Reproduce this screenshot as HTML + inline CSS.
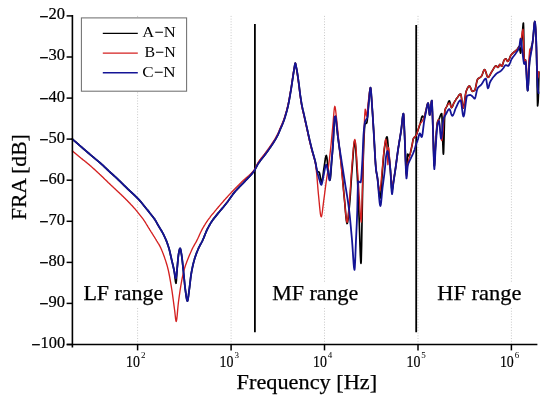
<!DOCTYPE html>
<html><head><meta charset="utf-8"><style>
html,body{margin:0;padding:0;background:#fff;}
svg{display:block;}
text{font-family:"Liberation Serif","DejaVu Serif",serif;fill:#000;}
.tk{font-size:16px;stroke:#000;stroke-width:0.2px;}
.sup{font-size:9px;}
.lab{font-size:21px;stroke:#000;stroke-width:0.25px;}
.lab2{font-size:21.5px;stroke:#000;stroke-width:0.25px;}
.leg{font-size:15px;}
</style></head><body>
<svg width="550" height="403" viewBox="0 0 550 403">
<line x1="137.6" y1="15.9" x2="137.6" y2="344.5" stroke="#c8c8c8" stroke-width="1" stroke-dasharray="1,1.73"/>
<line x1="231.1" y1="15.9" x2="231.1" y2="344.5" stroke="#c8c8c8" stroke-width="1" stroke-dasharray="1,1.73"/>
<line x1="324.5" y1="15.9" x2="324.5" y2="344.5" stroke="#c8c8c8" stroke-width="1" stroke-dasharray="1,1.73"/>
<line x1="418.0" y1="15.9" x2="418.0" y2="344.5" stroke="#c8c8c8" stroke-width="1" stroke-dasharray="1,1.73"/>
<line x1="511.4" y1="15.9" x2="511.4" y2="344.5" stroke="#c8c8c8" stroke-width="1" stroke-dasharray="1,1.73"/>
<line x1="254.9" y1="24.1" x2="254.9" y2="332.3" stroke="#000" stroke-width="1.8"/>
<line x1="416.2" y1="24.9" x2="416.2" y2="332.3" stroke="#000" stroke-width="1.8"/>
<rect x="80.5" y="282" width="86.0" height="25" fill="#fff"/>
<rect x="269.5" y="282" width="92.0" height="25" fill="#fff"/>
<rect x="434.5" y="282" width="90.0" height="25" fill="#fff"/>
<path d="M72.4,139.1 72.8,139.5 73.2,139.8 73.6,140.2 74,140.5 74.4,140.9 74.8,141.2 75.2,141.6 75.6,141.9 76,142.2 76.4,142.6 76.8,142.9 77.2,143.3 77.6,143.6 78,144.0 78.4,144.3 78.8,144.7 79.2,145.0 79.6,145.4 80,145.7 80.4,146.1 80.8,146.4 81,146.6 81.2,146.8 81.6,147.1 82,147.5 82.4,147.8 82.8,148.2 83.2,148.5 83.6,148.9 84,149.2 84.4,149.5 84.8,149.9 85.2,150.2 85.6,150.6 86,150.9 86.4,151.3 86.8,151.6 87.2,152.0 87.6,152.3 88,152.7 88.4,153.0 88.8,153.3 89.2,153.7 89.6,154.0 90,154.4 90.4,154.7 90.8,155.1 91.2,155.4 91.2,155.4 91.6,155.7 92,156.1 92.4,156.4 92.8,156.7 93.2,157.1 93.6,157.4 94,157.7 94.4,158.1 94.8,158.4 95.2,158.7 95.6,159.1 96,159.4 96.4,159.7 96.8,160.1 97.2,160.4 97.6,160.7 98,161.1 98.4,161.4 98.8,161.7 99.2,162.1 99.6,162.4 100,162.8 100.4,163.1 100.8,163.5 101.2,163.8 101.4,164.0 101.6,164.2 102,164.5 102.4,164.9 102.8,165.3 103.2,165.6 103.6,166.0 104,166.4 104.4,166.8 104.8,167.2 105.2,167.5 105.6,167.9 106,168.3 106.4,168.7 106.8,169.1 107.2,169.5 107.6,169.8 108,170.2 108.4,170.6 108.8,171.0 109.2,171.4 109.6,171.7 110,172.1 110,172.1 110.4,172.5 110.8,172.8 111.2,173.2 111.6,173.5 112,173.9 112.4,174.2 112.8,174.6 113.2,175.0 113.6,175.3 114,175.7 114.4,176.0 114.8,176.4 115.2,176.7 115.6,177.1 115.8,177.3 116,177.5 116.4,177.9 116.8,178.2 117.2,178.6 117.6,179.0 118,179.4 118.4,179.8 118.8,180.2 119.2,180.5 119.6,180.9 120,181.3 120.4,181.7 120.8,182.1 121.2,182.5 121.6,182.9 122,183.3 122.4,183.7 122.8,184.1 123.2,184.5 123.6,184.9 124,185.3 124.4,185.7 124.8,186.0 125.2,186.4 125.6,186.8 126,187.2 126.4,187.6 126.8,188.0 127,188.2 127.2,188.4 127.6,188.8 128,189.2 128.4,189.5 128.8,189.9 129.2,190.3 129.6,190.7 130,191.0 130.4,191.4 130.8,191.8 131.2,192.1 131.6,192.5 132,192.9 132.4,193.3 132.8,193.6 133.2,194.0 133.6,194.4 134,194.8 134.4,195.1 134.8,195.5 135.2,195.9 135.6,196.3 136,196.7 136.4,197.1 136.8,197.5 137.2,197.9 137.6,198.3 138,198.7 138.4,199.1 138.8,199.5 139.2,200.0 139.5,200.3 139.6,200.4 140,200.9 140.4,201.3 140.8,201.8 141.2,202.3 141.6,202.8 142,203.3 142.4,203.8 142.8,204.3 143.2,204.8 143.6,205.3 143.7,205.4 144,205.8 144.4,206.2 144.8,206.7 145.2,207.2 145.6,207.7 146,208.2 146.4,208.7 146.8,209.2 147.2,209.7 147.4,209.9 147.6,210.1 148,210.6 148.4,211.1 148.8,211.6 149.2,212.1 149.6,212.7 150,213.2 150.4,213.7 150.8,214.2 151.2,214.7 151.2,214.7 151.6,215.2 152,215.7 152.4,216.2 152.8,216.7 153.2,217.2 153.6,217.8 154,218.3 154.4,218.9 154.8,219.4 154.9,219.6 155.2,220.1 155.6,220.7 156,221.4 156.4,222.1 156.8,222.8 157.2,223.6 157.6,224.3 158,225.0 158,225.0 158.4,225.7 158.8,226.4 159.2,227.0 159.6,227.7 160,228.3 160.4,229.0 160.8,229.6 161.2,230.3 161.6,231.0 162,231.7 162.4,232.4 162.8,233.1 163.2,233.9 163.6,234.7 163.8,235.1 164,235.5 164.4,236.4 164.8,237.2 165.2,238.1 165.6,239.0 166,239.9 166.4,240.9 166.8,241.9 167.2,243.0 167.6,244.1 168,245.2 168.4,246.5 168.7,247.4 168.8,247.7 169.2,249.1 169.6,250.7 170,252.4 170.4,254.2 170.8,256.0 171.2,257.8 171.6,259.6 171.7,260.0 172,261.3 172.4,262.9 172.8,264.5 173.2,266.2 173.6,268.0 174,269.9 174.2,271.0 174.4,272.3 174.8,275.6 175.2,279.2 175.6,282.1 176,283.3 176,283.3 176.4,280.3 176.8,274.0 177.2,268.0 177.2,268.0 177.6,263.4 178,258.9 178.4,255.3 178.6,254.0 178.8,252.9 179.2,250.8 179.6,249.2 180,248.3 180.1,248.3 180.4,248.7 180.8,250.3 181.2,252.6 181.6,255.0 181.6,255.0 182,257.8 182.4,261.3 182.8,265.1 183.2,269.1 183.6,273.0 183.6,273.0 184,276.9 184.4,281.0 184.8,285.1 185.2,288.7 185.5,291.0 185.6,291.7 186,294.6 186.4,297.3 186.8,299.5 187.2,300.8 187.4,301.0 187.6,300.8 188,299.1 188.4,296.3 188.8,293.1 189.2,290.0 189.2,290.0 189.6,286.9 190,283.5 190.4,280.0 190.8,276.7 191.2,274.0 191.2,274.0 191.6,271.7 192,269.6 192.4,267.6 192.8,265.7 193.2,264.0 193.6,262.4 194,260.9 194.3,259.8 194.4,259.5 194.8,258.1 195.2,256.9 195.6,255.7 196,254.6 196.4,253.5 196.8,252.4 197.2,251.4 197.6,250.5 198,249.5 198.4,248.6 198.4,248.6 198.8,247.7 199.2,246.9 199.6,246.1 200,245.3 200.4,244.5 200.8,243.8 201.2,243.1 201.6,242.3 202,241.6 202.4,240.8 202.8,239.9 202.9,239.7 203.2,239.0 203.6,238.1 204,237.1 204.4,236.1 204.8,235.1 205.2,234.0 205.6,233.1 206,232.1 206.4,231.2 206.5,231.0 206.8,230.4 207.2,229.5 207.6,228.7 208,227.9 208.4,227.2 208.8,226.4 209.2,225.7 209.6,225.0 210,224.3 210.4,223.6 210.8,222.9 211.2,222.3 211.2,222.3 211.6,221.7 212,221.1 212.4,220.5 212.8,220.0 213.2,219.4 213.6,218.9 214,218.4 214.4,217.9 214.8,217.3 215.2,216.9 215.6,216.4 216,215.9 216.4,215.4 216.8,214.9 217.2,214.4 217.6,213.9 218,213.4 218.4,212.9 218.6,212.7 218.8,212.5 219.2,212.0 219.6,211.5 220,211.0 220.4,210.5 220.8,210.0 221.2,209.6 221.6,209.1 222,208.6 222.4,208.2 222.8,207.7 223.2,207.2 223.6,206.8 224,206.3 224.4,205.8 224.8,205.3 225.2,204.8 225.6,204.3 226,203.8 226.1,203.7 226.4,203.3 226.8,202.8 227.2,202.3 227.6,201.7 228,201.2 228.4,200.6 228.8,200.0 229.2,199.5 229.6,198.9 230,198.3 230.4,197.8 230.8,197.2 231.2,196.6 231.6,196.1 232,195.5 232.4,195.0 232.8,194.4 233.2,193.9 233.6,193.4 234,192.9 234.4,192.4 234.8,191.9 234.8,191.9 235.2,191.4 235.6,191.0 236,190.5 236.4,190.1 236.8,189.6 237.2,189.2 237.6,188.8 238,188.4 238.4,188.0 238.8,187.6 239.2,187.1 239.6,186.7 240,186.3 240.4,185.9 240.8,185.5 241.2,185.1 241.6,184.7 242,184.3 242.4,183.9 242.8,183.5 243.2,183.1 243.6,182.6 244,182.2 244.2,182.0 244.4,181.8 244.8,181.4 245.2,180.9 245.6,180.5 246,180.1 246.4,179.7 246.8,179.3 247.2,178.9 247.6,178.4 248,178.0 248.4,177.6 248.8,177.2 249.2,176.8 249.6,176.3 250,175.9 250.4,175.5 250.8,175.0 251.2,174.6 251.6,174.1 252,173.6 252.4,173.1 252.8,172.6 253.2,172.1 253.6,171.6 254,171.0 254.4,170.4 254.7,170.0 254.8,169.8 255.2,169.2 255.6,168.4 256,167.6 256.4,166.8 256.8,166.0 257.2,165.3 257.6,164.6 257.7,164.4 258,163.9 258.4,163.3 258.8,162.7 259.2,162.2 259.6,161.6 260,161.1 260.4,160.5 260.8,160.0 261.2,159.5 261.6,159.0 262,158.5 262.4,158.0 262.8,157.5 263.2,157.0 263.6,156.5 264,156.0 264.4,155.5 264.8,154.9 265.2,154.4 265.2,154.4 265.6,153.9 266,153.3 266.4,152.8 266.8,152.2 267.2,151.7 267.6,151.1 268,150.6 268.4,150.0 268.8,149.5 269.2,148.9 269.6,148.3 270,147.8 270.4,147.2 270.8,146.6 271.2,146.0 271.6,145.4 272,144.8 272.4,144.2 272.6,143.9 272.8,143.6 273.2,143.0 273.6,142.3 274,141.7 274.4,141.1 274.8,140.4 275.2,139.8 275.6,139.1 276,138.4 276.4,137.7 276.8,136.9 277.2,136.2 277.6,135.4 277.8,135.0 278,134.6 278.4,133.7 278.8,132.7 279.2,131.8 279.6,130.8 279.8,130.3 280,129.8 280.4,128.9 280.8,128.0 281.2,127.1 281.6,126.2 282,125.3 282.4,124.3 282.8,123.3 283.2,122.3 283.2,122.3 283.6,121.2 284,120.1 284.4,118.9 284.8,117.7 285.2,116.4 285.6,115.1 286,113.7 286.1,113.4 286.4,112.3 286.8,110.9 287.2,109.3 287.6,107.7 288,106.0 288,106.0 288.4,104.1 288.8,102.1 289.1,100.5 289.2,100.0 289.6,97.8 290,95.5 290.4,93.2 290.8,90.9 291.2,88.4 291.3,87.8 291.6,85.9 292,83.2 292.4,80.5 292.8,77.8 293.2,75.1 293.2,75.1 293.6,72.5 294,69.9 294.4,67.5 294.4,67.5 294.8,65.0 295.2,63.3 295.3,63.2 295.6,63.8 296,65.9 296.3,67.5 296.4,68.0 296.8,70.0 297.2,72.3 297.3,72.9 297.6,74.8 298,77.6 298.4,80.5 298.8,83.5 298.8,83.5 299.2,86.7 299.6,90.0 300,93.3 300.3,95.5 300.4,96.2 300.8,98.9 301.2,101.5 301.6,103.9 301.8,105.0 302,106.0 302.4,107.9 302.8,109.7 303.2,111.3 303.6,113.1 303.7,113.5 304,114.8 304.4,116.6 304.8,118.4 305.2,120.2 305.6,122.0 306,123.8 306.4,125.6 306.7,126.9 306.8,127.4 307.2,129.2 307.6,131.0 308,132.9 308.4,134.7 308.8,136.5 309.2,138.3 309.6,140.1 310,141.8 310,141.8 310.4,143.4 310.8,145.0 311.2,146.6 311.6,148.2 312,149.7 312.4,151.2 312.4,151.2 312.8,152.7 313.2,154.1 313.6,155.5 314,157.0 314.4,158.4 314.8,159.9 315.2,161.5 315.4,162.3 315.6,163.2 316,165.5 316.4,168.0 316.8,170.0 317.2,171.3 317.3,171.4 317.6,171.6 318,171.8 318.4,171.9 318.8,172.0 319.1,172.2 319.2,172.3 319.6,173.4 320,175.3 320.4,177.5 320.8,179.7 321.2,181.5 321.6,182.4 321.7,182.4 322,181.9 322.4,180.1 322.8,177.3 323.2,174.0 323.6,170.7 324,168.0 324,168.0 324.4,165.4 324.8,162.5 325.2,159.7 325.6,157.4 326,155.9 326.3,155.5 326.4,155.6 326.8,157.2 327.2,160.2 327.6,164.0 328,167.7 328.3,170.0 328.4,170.7 328.8,173.7 329.2,176.7 329.6,179.1 330,180.0 330,180.0 330.4,178.3 330.8,174.0 331.2,168.4 331.6,162.6 331.8,160.0 332,157.6 332.4,152.6 332.8,147.4 333,144.6 333.2,141.4 333.6,133.3 334,125.1 334.4,118.9 334.7,117.0 334.8,116.9 335.2,116.5 335.5,116.4 335.6,116.5 336,119.2 336.4,123.1 336.5,124.0 336.8,126.7 337.2,130.5 337.6,134.2 337.6,134.2 338,137.6 338.4,140.8 338.8,143.9 339.2,147.0 339.6,150.0 340,153.1 340.4,156.3 340.8,159.6 341.2,163.1 341.4,165.0 341.6,167.0 342,171.2 342.4,175.7 342.8,180.5 343.2,185.3 343.6,190.1 344,194.7 344.4,199.0 344.5,200.0 344.8,203.2 345.2,207.9 345.6,212.7 346,217.1 346.4,220.7 346.8,222.9 347.1,223.5 347.2,223.4 347.6,222.2 348,219.7 348.4,216.3 348.8,212.3 349.2,208.1 349.5,205.0 349.6,204.0 350,199.1 350.4,193.5 350.8,187.4 351.2,181.1 351.6,175.2 352,170.0 352,170.0 352.4,164.9 352.8,159.4 353.2,153.9 353.6,148.9 354,144.8 354.4,142.0 354.8,141.0 354.8,141.0 355.2,142.5 355.6,146.6 356,152.5 356.4,159.4 356.8,166.6 357,170.0 357.2,173.5 357.6,181.7 358,190.8 358.4,200.5 358.8,210.3 359,215.0 359.2,220.1 359.6,232.3 360,245.0 360.4,255.8 360.8,262.4 361,263.3 361.2,260.9 361.6,245.0 362,221.8 362.4,200.0 362.4,200.0 362.8,180.0 363.2,160.5 363.5,150.0 363.6,147.4 364,137.7 364.4,129.7 364.8,124.9 365,124.0 365.2,123.8 365.6,123.5 366,123.4 366.4,123.2 366.8,122.8 366.8,122.8 367.2,120.7 367.6,116.3 368,110.9 368.4,106.0 368.5,105.0 368.8,101.9 369.2,97.3 369.6,92.9 370,89.5 370.4,87.8 370.5,87.7 370.8,88.9 371.2,93.2 371.6,99.1 372,105.0 372,105.0 372.4,110.7 372.8,117.0 373.2,123.5 373.6,130.0 373.6,130.0 374,136.8 374.4,144.1 374.8,151.5 375.2,158.5 375.6,164.5 376,169.1 376.1,170.0 376.4,172.1 376.8,174.3 377.2,176.4 377.3,177.0 377.6,179.2 378,182.6 378.4,186.5 378.8,190.3 379.2,193.7 379.6,196.3 380,197.8 380.2,198.0 380.4,197.6 380.8,194.6 381.2,189.6 381.6,183.4 382,176.9 382.4,171.2 382.5,170.0 382.8,166.4 383.2,161.4 383.6,156.5 384,152.2 384.4,148.7 384.5,148.0 384.8,146.1 385.2,143.5 385.6,141.2 386,139.2 386.4,137.7 386.8,136.9 387,136.8 387.2,137.2 387.6,140.1 388,144.5 388.4,149.0 388.5,150.0 388.8,152.9 389.2,156.9 389.6,161.1 390,165.5 390.4,170.0 390.4,170.0 390.8,175.7 391.2,182.3 391.6,187.7 392,190.0 392,190.0 392.4,189.1 392.8,186.8 393.2,184.0 393.5,182.0 393.6,181.4 394,178.9 394.4,176.2 394.8,173.5 395.2,170.7 395.3,170.0 395.6,167.9 396,164.9 396.4,161.8 396.8,158.8 397.2,155.8 397.6,152.8 398,150.0 398,150.0 398.4,147.4 398.8,144.8 399.2,142.4 399.6,140.0 400,137.6 400.4,135.2 400.8,132.7 401.2,130.0 401.2,130.0 401.6,126.7 402,122.9 402.4,119.0 402.8,115.8 403.2,113.9 403.4,113.6 403.6,114.6 404,121.1 404.4,130.7 404.8,140.0 404.8,140.0 405.2,149.8 405.6,161.0 406,170.2 406.4,174.0 406.4,174.0 406.8,169.5 407.2,160.6 407.6,154.3 407.7,154.0 408,154.3 408.4,155.1 408.8,155.9 409,156.0 409.2,155.9 409.6,155.1 410,154.0 410,154.0 410.4,152.7 410.8,151.1 411.2,149.3 411.6,147.4 412,145.5 412.1,145.0 412.4,143.4 412.8,141.1 413.2,139.2 413.4,138.6 413.6,138.2 414,137.7 414.4,137.2 414.8,136.9 415.2,136.6 415.6,136.2 416,135.6 416,135.6 416.4,134.8 416.8,133.7 417.2,132.5 417.6,131.3 417.9,130.4 418,130.1 418.4,128.9 418.8,127.7 419.2,126.5 419.6,125.3 420,124.0 420.1,123.7 420.4,122.6 420.8,120.9 421.2,119.2 421.6,117.6 422,116.5 422.4,116.1 422.4,116.1 422.8,116.3 423.2,116.9 423.6,117.5 424,117.9 424.2,118.0 424.4,117.8 424.8,116.4 425.2,114.3 425.6,111.9 426,110.0 426,110.0 426.4,108.4 426.8,106.6 427.2,105.0 427.6,103.7 428,103.1 428.1,103.1 428.4,104.2 428.8,107.9 429.2,112.2 429.6,114.8 429.7,114.9 430,114.1 430.4,111.2 430.8,107.2 431.2,103.4 431.6,101.0 431.8,100.6 432,102.1 432.4,111.4 432.8,124.2 433,130.0 433.2,136.0 433.6,150.4 434,162.5 434.3,166.0 434.4,165.7 434.8,159.8 435.2,150.7 435.5,145.0 435.6,143.6 436,137.7 436.4,132.1 436.8,127.2 437.2,123.6 437.5,122.0 437.6,121.7 438,120.7 438.4,120.0 438.8,119.4 439,119.0 439.2,118.6 439.6,117.6 440,116.5 440.4,115.5 440.8,114.6 441.2,113.9 441.6,113.6 441.7,113.6 442,116.9 442.4,128.6 442.8,142.6 443.2,152.6 443.4,154.2 443.6,152.2 444,139.5 444.4,122.9 444.8,111.5 444.9,110.6 445.2,109.5 445.6,108.4 446,107.7 446.4,107.1 446.8,106.4 447,106.0 447.2,105.5 447.6,104.4 448,103.2 448.4,102.2 448.8,101.3 449.2,100.9 449.3,100.9 449.6,101.2 450,102.4 450.4,104.0 450.8,105.7 451.2,107.1 451.6,107.6 451.6,107.6 452,107.3 452.4,106.6 452.8,105.6 453.2,104.6 453.6,103.6 453.8,103.2 454,102.8 454.4,102.1 454.8,101.4 455.2,100.7 455.6,100.1 456,99.4 456.4,98.8 456.8,98.3 457,98.0 457.2,97.7 457.6,97.2 458,96.6 458.4,96.0 458.8,95.4 459.2,94.9 459.6,94.5 460,94.2 460.4,94.0 460.6,94.0 460.8,94.2 461.2,95.9 461.6,98.6 462,101.8 462.4,104.8 462.8,107.1 463.2,108.0 463.2,108.0 463.6,107.3 464,105.4 464.4,102.8 464.8,99.8 465.2,96.7 465.6,93.9 466,91.9 466.2,91.2 466.4,90.7 466.8,89.7 467.2,88.8 467.6,88.0 468,87.2 468.4,86.7 468.8,86.2 469.2,86.0 469.4,86.0 469.6,86.1 470,86.6 470.4,87.4 470.8,88.4 471.2,89.4 471.6,90.4 472,91.0 472.4,91.3 472.4,91.3 472.8,91.3 473.2,91.2 473.6,91.0 474,90.8 474.4,90.6 474.6,90.5 474.8,90.3 475.2,89.2 475.6,87.6 476,85.7 476.4,83.6 476.8,81.7 477.2,80.2 477.6,79.3 477.6,79.3 478,78.8 478.4,78.5 478.8,78.2 479.2,77.9 479.6,77.7 480,77.5 480.4,77.2 480.8,76.9 481.2,76.5 481.3,76.4 481.6,76.0 482,75.1 482.4,74.1 482.8,73.0 483.2,71.8 483.6,70.9 484,70.1 484.4,69.7 484.6,69.6 484.8,69.7 485.2,70.2 485.6,71.2 486,72.5 486.4,73.8 486.8,75.2 487.2,76.3 487.6,77.1 488,77.4 488,77.4 488.4,77.3 488.8,76.9 489.2,76.4 489.6,75.7 490,75.0 490.4,74.2 490.8,73.4 491.2,72.6 491.6,71.9 491.7,71.8 492,71.4 492.4,70.7 492.8,70.0 493.2,69.3 493.6,68.6 494,67.9 494.4,67.3 494.8,66.8 495.2,66.3 495.6,66.0 496,65.9 496.1,65.9 496.4,66.0 496.8,66.4 497.2,66.8 497.6,67.2 498,67.4 498,67.4 498.4,67.1 498.8,66.3 499.2,65.3 499.6,64.6 499.9,64.4 500,64.4 500.4,64.7 500.8,65.3 501.2,65.9 501.6,66.2 501.7,66.2 502,66.0 502.4,65.2 502.8,64.1 503.2,62.7 503.6,61.4 504,60.4 504.3,59.9 504.4,59.8 504.8,59.4 505.2,59.0 505.6,58.8 505.8,58.8 506,58.9 506.4,59.4 506.8,60.2 507.2,61.0 507.6,61.4 507.7,61.4 508,61.3 508.4,60.8 508.8,60.1 509.2,59.2 509.6,58.2 510,57.1 510.4,56.2 510.8,55.4 511,55.1 511.2,54.8 511.6,54.4 512,53.9 512.4,53.5 512.8,53.1 513.2,52.8 513.6,52.4 514,52.1 514.4,51.8 514.8,51.4 515.2,51.1 515.6,50.8 516,50.4 516.4,50.1 516.8,49.7 517.2,49.3 517.6,48.8 517.7,48.7 518,48.2 518.4,47.5 518.8,46.8 519.2,46.5 519.2,46.5 519.6,47.8 520,50.4 520.4,52.6 520.6,53.0 520.8,52.5 521.2,49.3 521.6,44.2 522,38.7 522.3,35.0 522.4,33.8 522.8,28.2 523.2,23.7 523.4,23.0 523.6,27.9 524,51.9 524.3,62.0 524.4,62.0 524.8,61.2 525.2,60.3 525.5,60.0 525.6,60.2 526,64.0 526.4,71.1 526.8,79.4 527.2,86.5 527.6,90.3 527.7,90.5 528,88.9 528.4,82.9 528.8,74.7 529.2,66.6 529.5,62.0 529.6,60.8 530,56.4 530.4,52.7 530.5,52.0 530.8,50.1 531.2,48.0 531.6,46.3 532,44.7 532.4,42.9 532.8,40.6 532.9,40.0 533.2,37.3 533.6,32.4 534,27.3 534.4,23.2 534.8,21.5 534.8,21.5 535.2,23.5 535.6,28.8 536,36.0 536.1,38.0 536.4,47.2 536.8,65.4 537,75.0 537.2,87.1 537.6,106.0 537.6,106.0 538,103.0 538.2,100.0 538.4,95.1 538.8,77.5 538.9,72.0" fill="none" stroke="#000" stroke-width="1.7" stroke-linejoin="round" stroke-linecap="round"/>
<path d="M72.4,150.9 72.8,151.2 73.2,151.6 73.6,151.9 74,152.3 74.4,152.6 74.8,152.9 75.2,153.3 75.6,153.6 76,154.0 76.4,154.3 76.8,154.6 77.2,155.0 77.6,155.3 78,155.6 78.4,156.0 78.8,156.3 79.2,156.6 79.6,157.0 80,157.3 80,157.3 80.4,157.6 80.8,158.0 81.2,158.3 81.6,158.6 82,158.9 82.4,159.2 82.8,159.6 83.2,159.9 83.6,160.2 84,160.5 84.4,160.8 84.8,161.1 85.2,161.5 85.6,161.8 86,162.1 86.4,162.4 86.8,162.7 87.2,163.1 87.6,163.4 88,163.7 88.4,164.1 88.8,164.4 88.8,164.4 89.2,164.7 89.6,165.1 90,165.4 90.4,165.8 90.8,166.1 91.2,166.5 91.6,166.8 92,167.2 92.4,167.5 92.8,167.9 93.2,168.3 93.6,168.6 94,169.0 94.4,169.4 94.8,169.7 95.2,170.1 95.6,170.5 96,170.8 96.4,171.2 96.8,171.6 97.2,171.9 97.6,172.3 98,172.7 98.4,173.0 98.8,173.4 99,173.6 99.2,173.8 99.6,174.2 100,174.5 100.4,174.9 100.8,175.3 101.2,175.7 101.6,176.1 102,176.4 102.4,176.8 102.8,177.2 103.2,177.6 103.6,178.0 104,178.4 104.4,178.8 104.8,179.2 105.2,179.5 105.6,179.9 106,180.3 106.4,180.7 106.8,181.1 107.2,181.5 107.6,181.9 108,182.3 108.4,182.7 108.8,183.0 109.2,183.4 109.6,183.8 109.8,184.0 110,184.2 110.4,184.6 110.8,185.0 111.2,185.3 111.6,185.7 112,186.1 112.4,186.5 112.8,186.8 113.2,187.2 113.6,187.6 114,188.0 114.4,188.3 114.8,188.7 115.2,189.1 115.6,189.5 116,189.8 116.4,190.2 116.8,190.6 117.2,190.9 117.6,191.3 118,191.7 118.4,192.1 118.8,192.4 119.2,192.8 119.6,193.2 120,193.6 120.4,193.9 120.8,194.3 121.2,194.7 121.6,195.1 122,195.5 122.4,195.9 122.8,196.2 123.2,196.6 123.6,197.0 124,197.4 124.4,197.8 124.8,198.2 125.2,198.6 125.6,199.0 126,199.4 126,199.4 126.4,199.8 126.8,200.2 127.2,200.6 127.6,201.0 128,201.4 128.4,201.8 128.8,202.3 129.2,202.7 129.6,203.1 130,203.5 130.4,203.9 130.8,204.4 131.2,204.8 131.6,205.2 132,205.6 132.4,206.1 132.8,206.5 133.2,206.9 133.6,207.4 134,207.8 134.4,208.3 134.8,208.7 135.2,209.2 135.2,209.2 135.6,209.7 136,210.1 136.4,210.6 136.8,211.1 137.2,211.6 137.6,212.1 138,212.6 138.4,213.1 138.8,213.6 139.2,214.1 139.6,214.6 140,215.1 140,215.1 140.4,215.6 140.8,216.1 141.2,216.6 141.6,217.1 142,217.6 142.4,218.1 142.8,218.7 143.2,219.2 143.4,219.5 143.6,219.8 144,220.4 144.4,221.0 144.8,221.6 145.2,222.2 145.6,222.8 146,223.5 146.4,224.1 146.8,224.8 147.2,225.4 147.6,226.1 148,226.8 148.4,227.4 148.8,228.1 149.2,228.7 149.6,229.4 150,230.1 150.4,230.7 150.4,230.7 150.8,231.3 151.2,232.0 151.6,232.6 152,233.2 152.4,233.9 152.8,234.5 153.2,235.1 153.6,235.8 154,236.4 154.4,237.0 154.8,237.7 155.2,238.3 155.6,239.0 156,239.6 156.4,240.3 156.4,240.3 156.8,241.0 157.2,241.6 157.6,242.3 158,242.9 158.4,243.6 158.8,244.2 159.2,244.9 159.6,245.7 160,246.4 160.4,247.2 160.5,247.4 160.8,248.0 161.2,248.9 161.6,249.8 162,250.8 162.4,251.7 162.8,252.8 163.2,253.8 163.6,254.9 164,256.0 164,256.0 164.4,257.1 164.8,258.3 165.2,259.4 165.6,260.6 166,261.9 166.4,263.2 166.8,264.5 167.2,265.9 167.6,267.4 168,269.0 168.1,269.4 168.4,270.7 168.8,272.5 169.2,274.5 169.6,276.6 170,278.8 170.4,281.1 170.8,283.5 171.2,285.9 171.6,288.4 171.7,289.0 172,290.9 172.4,293.7 172.8,296.6 173.2,299.5 173.6,302.5 174,305.6 174.4,308.5 174.6,310.0 174.8,311.6 175.2,315.3 175.6,318.9 176,321.2 176.2,321.5 176.4,321.2 176.8,318.9 177.2,315.2 177.6,310.6 178,306.2 178.4,302.5 178.4,302.5 178.8,299.5 179.2,296.6 179.6,293.8 180,291.0 180.4,288.4 180.8,285.9 181.2,283.5 181.6,281.3 181.8,280.2 182,279.2 182.4,277.2 182.8,275.3 183.2,273.5 183.6,271.9 184,270.3 184.4,268.8 184.5,268.5 184.8,267.5 185.2,266.2 185.6,265.1 186,264.0 186.4,262.9 186.8,261.8 187.2,260.8 187.6,259.8 187.6,259.8 188,258.8 188.4,257.8 188.8,256.8 189.2,255.8 189.6,254.8 190,253.9 190.4,253.0 190.8,252.0 191.2,251.2 191.6,250.3 192,249.4 192.4,248.6 192.4,248.6 192.8,247.8 193.2,247.0 193.6,246.3 194,245.6 194.4,244.9 194.8,244.2 195.2,243.5 195.6,242.8 196,242.1 196.4,241.4 196.8,240.6 196.9,240.4 197.2,239.8 197.6,239.0 198,238.1 198.4,237.3 198.8,236.4 199.2,235.5 199.6,234.6 200,233.7 200.4,232.8 200.8,232.0 201.2,231.2 201.6,230.4 201.8,230.0 202,229.6 202.4,228.9 202.8,228.2 203.2,227.5 203.6,226.8 204,226.1 204.4,225.4 204.8,224.8 205.2,224.1 205.6,223.5 206,222.9 206.4,222.3 206.8,221.7 207.2,221.1 207.4,220.8 207.6,220.5 208,219.9 208.4,219.4 208.8,218.8 209.2,218.3 209.6,217.8 210,217.3 210.4,216.7 210.8,216.2 211.2,215.7 211.6,215.2 212,214.7 212.4,214.2 212.8,213.8 213.2,213.3 213.6,212.8 214,212.3 214.4,211.8 214.8,211.3 214.9,211.2 215.2,210.8 215.6,210.3 216,209.9 216.4,209.4 216.8,208.9 217.2,208.4 217.6,208.0 218,207.5 218.4,207.0 218.8,206.6 219.2,206.1 219.6,205.6 220,205.2 220.4,204.7 220.8,204.2 221.2,203.8 221.6,203.3 222,202.8 222.3,202.5 222.4,202.4 222.8,201.9 223.2,201.5 223.6,201.0 224,200.5 224.4,200.1 224.8,199.6 224.9,199.5 225.2,199.2 225.6,198.7 226,198.3 226.4,197.8 226.8,197.4 227.2,197.0 227.6,196.5 228,196.1 228.4,195.7 228.8,195.2 229.2,194.8 229.6,194.4 230,193.9 230.4,193.5 230.8,193.1 231.2,192.7 231.6,192.2 232,191.8 232.4,191.4 232.8,191.0 233.2,190.6 233.6,190.1 234,189.7 234.4,189.3 234.8,188.9 234.8,188.9 235.2,188.5 235.6,188.1 236,187.7 236.4,187.3 236.8,186.9 237.2,186.5 237.6,186.1 238,185.7 238.4,185.3 238.8,184.9 239.2,184.5 239.6,184.1 240,183.7 240.4,183.3 240.8,182.9 241.2,182.5 241.6,182.1 242,181.7 242.4,181.3 242.7,181.0 242.8,180.9 243.2,180.5 243.6,180.1 244,179.8 244.4,179.4 244.8,179.1 245.2,178.7 245.6,178.4 246,178.0 246.4,177.7 246.8,177.4 247.2,177.0 247.6,176.7 248,176.4 248.4,176.0 248.8,175.7 249.2,175.3 249.6,174.9 250,174.6 250.4,174.2 250.8,173.8 251.2,173.4 251.6,173.0 252,172.6 252.4,172.1 252.8,171.7 253.2,171.2 253.6,170.7 254,170.2 254.4,169.6 254.7,169.2 254.8,169.1 255.2,168.4 255.6,167.6 256,166.7 256.4,165.8 256.8,164.9 257.2,164.0 257.6,163.3 257.7,163.1 258,162.6 258.4,162.0 258.8,161.4 259.2,160.8 259.6,160.2 260,159.7 260.4,159.2 260.8,158.6 261.2,158.1 261.6,157.6 262,157.2 262.4,156.7 262.8,156.2 263.2,155.7 263.6,155.2 264,154.7 264.4,154.2 264.8,153.6 265.2,153.1 265.2,153.1 265.6,152.6 266,152.0 266.4,151.5 266.8,150.9 267.2,150.4 267.6,149.8 268,149.3 268.4,148.7 268.8,148.2 269.2,147.6 269.6,147.0 270,146.5 270.4,145.9 270.8,145.3 271.2,144.7 271.6,144.1 272,143.5 272.4,142.9 272.6,142.6 272.8,142.3 273.2,141.7 273.6,141.0 274,140.4 274.4,139.8 274.8,139.1 275.2,138.5 275.6,137.8 276,137.1 276.4,136.4 276.8,135.6 277.2,134.9 277.6,134.1 277.8,133.7 278,133.3 278.4,132.4 278.8,131.4 279.2,130.5 279.6,129.5 279.8,129.0 280,128.5 280.4,127.6 280.8,126.7 281.2,125.8 281.6,124.9 282,124.0 282.4,123.0 282.8,122.0 283.2,121.0 283.2,121.0 283.6,119.9 284,118.8 284.4,117.6 284.8,116.4 285.2,115.1 285.6,113.8 286,112.4 286.1,112.1 286.4,111.0 286.8,109.6 287.2,108.0 287.6,106.4 288,104.7 288,104.7 288.4,102.8 288.8,100.8 289.1,99.2 289.2,98.7 289.6,96.5 290,94.2 290.4,91.9 290.8,89.6 291.2,87.1 291.3,86.5 291.6,84.6 292,81.8 292.4,79.0 292.8,76.3 293.2,73.8 293.2,73.8 293.6,71.6 294,69.5 294.4,67.5 294.4,67.5 294.8,65.1 295.2,63.3 295.3,63.2 295.6,63.8 296,65.8 296.3,67.5 296.4,68.0 296.8,70.6 297.2,73.4 297.3,74.1 297.6,76.1 298,78.9 298.4,81.8 298.8,84.7 298.8,84.7 299.2,87.9 299.6,91.2 300,94.5 300.3,96.7 300.4,97.4 300.8,100.1 301.2,102.7 301.6,105.1 301.8,106.2 302,107.2 302.4,109.1 302.8,110.9 303.2,112.5 303.6,114.3 303.7,114.7 304,116.0 304.4,117.8 304.8,119.6 305.2,121.4 305.6,123.2 306,125.0 306.4,126.8 306.7,128.1 306.8,128.6 307.2,130.4 307.6,132.2 308,134.1 308.4,135.9 308.8,137.7 309.2,139.5 309.6,141.3 310,143.0 310,143.0 310.4,144.6 310.8,146.2 311.2,147.8 311.6,149.4 312,150.9 312.4,152.4 312.4,152.4 312.8,153.8 313.2,155.2 313.6,156.4 314,157.7 314.4,159.1 314.8,160.7 315.2,162.5 315.4,163.5 315.6,164.7 316,167.6 316.4,171.1 316.5,172.0 316.8,175.0 317.2,179.6 317.6,184.6 318,189.6 318.4,194.0 318.5,195.0 318.8,198.0 319.2,202.3 319.6,206.6 320,210.5 320.4,213.8 320.8,216.0 321.2,216.8 321.2,216.8 321.6,216.1 322,214.2 322.4,211.5 322.8,208.2 323.2,204.8 323.6,201.5 323.8,200.0 324,198.6 324.4,195.6 324.8,192.4 325.2,189.3 325.6,186.1 326,183.1 326.1,182.4 326.4,180.3 326.8,177.7 327.2,175.1 327.6,172.6 328,170.0 328.4,167.2 328.7,165.0 328.8,164.2 329.2,161.1 329.6,157.7 330,154.2 330.4,150.6 330.8,146.9 331,145.0 331.2,143.0 331.6,138.9 332,134.6 332.4,130.3 332.8,126.0 332.9,125.0 333.2,121.6 333.6,116.4 334,111.5 334.4,107.8 334.8,106.3 334.8,106.3 335.2,107.4 335.6,110.0 336,113.5 336.4,117.2 336.5,118.0 336.8,120.6 337.2,124.5 337.6,128.7 338,133.0 338.4,137.2 338.4,137.2 338.8,141.3 339.2,145.5 339.6,149.6 340,153.8 340.4,157.9 340.6,160.0 340.8,162.1 341.2,166.3 341.6,170.5 342,174.7 342.4,178.9 342.8,183.1 343.2,187.2 343.6,191.1 344,195.0 344,195.0 344.4,199.1 344.8,203.7 345.2,208.4 345.6,212.9 346,216.8 346.4,219.9 346.8,221.8 347.1,222.3 347.2,222.2 347.6,220.7 348,217.6 348.4,213.4 348.8,208.5 349.2,203.5 349.5,200.0 349.6,198.9 350,193.7 350.4,187.8 350.8,181.7 351.2,175.6 351.6,169.9 352,165.0 352,165.0 352.4,160.3 352.8,155.4 353.2,150.6 353.6,146.2 354,142.7 354.4,140.3 354.8,139.4 354.8,139.4 355.2,140.6 355.6,143.7 356,148.3 356.4,153.9 356.8,159.9 357.2,165.9 357.5,170.0 357.6,171.3 358,177.0 358.4,183.2 358.8,189.5 359.2,195.7 359.5,200.0 359.6,201.4 360,208.0 360.4,214.7 360.8,219.9 361.2,222.0 361.2,222.0 361.6,216.4 362,203.8 362.4,190.0 362.4,190.0 362.8,176.0 363.2,160.7 363.5,150.0 363.6,146.7 364,133.4 364.4,122.2 364.5,120.0 364.8,113.8 365.2,109.2 365.2,109.2 365.6,110.7 366,113.8 366.4,115.9 366.5,116.0 366.8,115.3 367.2,112.6 367.6,108.7 368,104.5 368.4,100.7 368.5,100.0 368.8,97.7 369.2,94.5 369.6,91.4 370,89.0 370.4,87.8 370.5,87.7 370.8,88.9 371.2,93.2 371.6,99.1 372,105.0 372,105.0 372.4,110.7 372.8,117.0 373.2,123.5 373.6,130.0 373.6,130.0 374,136.8 374.4,144.1 374.8,151.5 375.2,158.5 375.6,164.5 376,169.1 376.1,170.0 376.4,172.1 376.8,174.4 377.2,176.5 377.3,177.0 377.6,178.8 378,181.6 378.4,184.5 378.8,187.1 379.2,189.2 379.6,190.3 379.8,190.5 380,190.2 380.4,188.1 380.8,184.5 381.2,180.2 381.6,176.0 381.7,175.0 382,171.9 382.4,167.2 382.8,162.4 383.2,157.9 383.5,155.0 383.6,154.1 384,150.5 384.4,146.8 384.8,143.5 385.2,141.0 385.6,139.5 385.8,139.3 386,139.8 386.4,142.9 386.8,148.0 387.2,153.7 387.3,155.0 387.6,160.8 387.9,164.7 388,163.4 388.4,148.6 388.5,147.3 388.8,148.9 389.2,153.9 389.5,158.0 389.6,159.2 390,164.8 390.4,170.0 390.4,170.0 390.8,174.7 391.2,179.4 391.6,183.3 392,185.7 392.2,186.0 392.4,185.7 392.8,184.1 393.2,181.7 393.5,180.0 393.6,179.5 394,177.4 394.4,175.3 394.8,173.0 395.2,170.6 395.3,170.0 395.6,168.0 396,165.2 396.4,162.1 396.8,159.0 397.2,155.9 397.6,152.8 398,150.0 398,150.0 398.4,147.4 398.8,144.8 399.2,142.4 399.6,140.0 400,137.6 400.4,135.2 400.8,132.7 401.2,130.0 401.2,130.0 401.6,126.7 402,122.9 402.4,119.0 402.8,115.8 403.2,113.9 403.4,113.6 403.6,114.6 404,121.1 404.4,130.7 404.8,140.0 404.8,140.0 405.2,149.7 405.6,160.9 406,170.6 406.4,175.8 406.5,176.0 406.8,174.5 407.2,169.8 407.6,165.1 407.7,164.4 408,162.8 408.4,160.9 408.8,159.4 409.2,158.0 409.6,156.6 410,155.0 410,155.0 410.4,153.2 410.8,151.3 411.2,149.4 411.6,147.4 412,145.5 412.1,145.0 412.4,143.4 412.8,141.1 413.2,139.2 413.4,138.6 413.6,138.2 414,137.7 414.4,137.2 414.8,136.9 415.2,136.6 415.6,136.2 416,135.6 416,135.6 416.4,134.8 416.8,133.7 417.2,132.5 417.6,131.3 417.9,130.4 418,130.1 418.4,128.8 418.8,127.4 419.2,126.0 419.6,124.8 420,123.9 420.1,123.7 420.4,123.3 420.8,123.0 421.2,122.6 421.3,122.5 421.6,122.1 422,121.5 422.4,120.9 422.8,120.2 423.2,119.4 423.6,118.5 424,117.5 424.2,117.0 424.4,116.4 424.8,115.0 425.2,113.3 425.6,111.6 426,110.0 426,110.0 426.4,108.4 426.8,106.7 427.2,105.0 427.6,103.8 428,103.1 428.1,103.1 428.4,104.2 428.8,107.9 429.2,112.2 429.6,114.8 429.7,114.9 430,114.1 430.4,111.2 430.8,107.2 431.2,103.4 431.6,101.0 431.8,100.6 432,102.1 432.4,111.5 432.8,124.3 433,130.0 433.2,135.9 433.6,149.9 434,161.6 434.3,165.0 434.4,164.7 434.8,159.2 435.2,150.5 435.5,145.0 435.6,143.6 436,137.8 436.4,132.2 436.8,127.2 437.2,123.6 437.5,122.0 437.6,121.7 438,120.6 438.4,119.9 438.6,119.8 438.8,120.0 439.2,121.7 439.6,124.6 440,128.2 440.4,132.1 440.8,135.7 441.2,138.6 441.6,140.3 441.8,140.5 442,140.2 442.4,137.9 442.8,133.9 443.2,128.9 443.6,123.5 444,118.3 444.4,113.9 444.8,111.0 444.9,110.6 445.2,109.6 445.6,108.6 446,107.7 446.4,107.0 446.8,106.3 447,106.0 447.2,105.7 447.6,105.0 448,104.3 448.4,103.7 448.8,103.2 449.2,103.0 449.3,103.0 449.6,103.2 450,104.0 450.4,105.2 450.8,106.3 451.2,107.2 451.6,107.6 451.6,107.6 452,107.3 452.4,106.6 452.8,105.6 453.2,104.6 453.6,103.6 453.8,103.2 454,102.8 454.4,102.1 454.8,101.4 455.2,100.7 455.6,100.1 456,99.4 456.4,98.8 456.8,98.3 457,98.0 457.2,97.7 457.6,97.2 458,96.6 458.4,96.0 458.8,95.4 459.2,94.9 459.6,94.5 460,94.2 460.4,94.0 460.6,94.0 460.8,94.2 461.2,95.9 461.6,98.6 462,101.8 462.4,104.8 462.8,107.1 463.2,108.0 463.2,108.0 463.6,107.3 464,105.4 464.4,102.8 464.8,99.8 465.2,96.7 465.6,93.9 466,91.9 466.2,91.2 466.4,90.7 466.8,89.7 467.2,88.8 467.6,88.0 468,87.2 468.4,86.7 468.8,86.2 469.2,86.0 469.4,86.0 469.6,86.1 470,86.6 470.4,87.4 470.8,88.4 471.2,89.4 471.6,90.4 472,91.0 472.4,91.3 472.4,91.3 472.8,91.3 473.2,91.2 473.6,91.0 474,90.8 474.4,90.6 474.6,90.5 474.8,90.3 475.2,89.2 475.6,87.6 476,85.7 476.4,83.6 476.8,81.7 477.2,80.2 477.6,79.3 477.6,79.3 478,78.8 478.4,78.5 478.8,78.2 479.2,77.9 479.6,77.7 480,77.5 480.4,77.2 480.8,76.9 481.2,76.5 481.3,76.4 481.6,76.0 482,75.1 482.4,74.1 482.8,73.0 483.2,71.8 483.6,70.9 484,70.1 484.4,69.7 484.6,69.6 484.8,69.7 485.2,70.2 485.6,71.2 486,72.5 486.4,73.8 486.8,75.2 487.2,76.3 487.6,77.1 488,77.4 488,77.4 488.4,77.3 488.8,76.9 489.2,76.4 489.6,75.7 490,75.0 490.4,74.2 490.8,73.4 491.2,72.6 491.6,71.9 491.7,71.8 492,71.4 492.4,70.7 492.8,70.0 493.2,69.3 493.6,68.6 494,67.9 494.4,67.3 494.8,66.8 495.2,66.3 495.6,66.0 496,65.9 496.1,65.9 496.4,66.0 496.8,66.4 497.2,66.8 497.6,67.2 498,67.4 498,67.4 498.4,67.1 498.8,66.3 499.2,65.3 499.6,64.6 499.9,64.4 500,64.4 500.4,64.7 500.8,65.3 501.2,65.9 501.6,66.2 501.7,66.2 502,66.0 502.4,65.2 502.8,64.1 503.2,62.7 503.6,61.4 504,60.4 504.3,59.9 504.4,59.8 504.8,59.4 505.2,59.0 505.6,58.8 505.8,58.8 506,58.9 506.4,59.4 506.8,60.2 507.2,61.0 507.6,61.4 507.7,61.4 508,61.3 508.4,60.8 508.8,60.1 509.2,59.2 509.6,58.2 510,57.1 510.4,56.2 510.8,55.4 511,55.1 511.2,54.8 511.6,54.4 512,53.9 512.4,53.5 512.8,53.1 513.2,52.8 513.6,52.5 514,52.1 514.4,51.8 514.8,51.5 515.2,51.2 515.6,50.9 516,50.5 516.4,50.1 516.8,49.7 517.2,49.3 517.6,48.8 517.7,48.7 518,48.3 518.4,47.8 518.8,47.3 519.2,46.7 519.6,46.1 520,45.3 520.4,44.3 520.7,43.5 520.8,43.1 521.2,40.5 521.6,36.8 522,33.3 522.3,31.5 522.4,31.1 522.8,29.6 523,29.3 523.2,31.1 523.6,42.2 524,55.5 524.4,62.0 524.4,62.0 524.8,61.4 525.2,60.4 525.5,60.0 525.6,60.2 526,63.9 526.4,70.6 526.8,78.0 527.2,83.5 527.5,85.0 527.6,84.7 528,79.4 528.4,70.2 528.8,61.2 529,58.0 529.2,55.3 529.6,50.5 529.9,49.0 530,49.1 530.4,50.3 530.8,51.7 531,52.0 531.2,51.8 531.6,50.2 532,47.4 532.4,44.1 532.8,40.8 532.9,40.0 533.2,37.1 533.6,32.2 534,27.1 534.4,23.1 534.8,21.5 534.8,21.5 535.2,23.6 535.6,29.0 536,36.1 536.1,38.0 536.4,47.3 536.8,63.9 537.1,72.0 537.2,73.3 537.6,77.4 537.8,78.0 538,77.8 538.4,76.0 538.8,71.6" fill="none" stroke="#d42020" stroke-width="1.35" stroke-linejoin="round" stroke-linecap="round"/>
<path d="M72.4,139.1 72.8,139.5 73.2,139.8 73.6,140.2 74,140.5 74.4,140.9 74.8,141.2 75.2,141.6 75.6,141.9 76,142.2 76.4,142.6 76.8,142.9 77.2,143.3 77.6,143.6 78,144.0 78.4,144.3 78.8,144.7 79.2,145.0 79.6,145.4 80,145.7 80.4,146.1 80.8,146.4 81,146.6 81.2,146.8 81.6,147.1 82,147.5 82.4,147.8 82.8,148.2 83.2,148.5 83.6,148.9 84,149.2 84.4,149.5 84.8,149.9 85.2,150.2 85.6,150.6 86,150.9 86.4,151.3 86.8,151.6 87.2,152.0 87.6,152.3 88,152.7 88.4,153.0 88.8,153.3 89.2,153.7 89.6,154.0 90,154.4 90.4,154.7 90.8,155.1 91.2,155.4 91.2,155.4 91.6,155.7 92,156.1 92.4,156.4 92.8,156.7 93.2,157.1 93.6,157.4 94,157.7 94.4,158.1 94.8,158.4 95.2,158.7 95.6,159.1 96,159.4 96.4,159.7 96.8,160.1 97.2,160.4 97.6,160.7 98,161.1 98.4,161.4 98.8,161.7 99.2,162.1 99.6,162.4 100,162.8 100.4,163.1 100.8,163.5 101.2,163.8 101.4,164.0 101.6,164.2 102,164.5 102.4,164.9 102.8,165.3 103.2,165.6 103.6,166.0 104,166.4 104.4,166.8 104.8,167.2 105.2,167.5 105.6,167.9 106,168.3 106.4,168.7 106.8,169.1 107.2,169.5 107.6,169.8 108,170.2 108.4,170.6 108.8,171.0 109.2,171.4 109.6,171.7 110,172.1 110,172.1 110.4,172.5 110.8,172.8 111.2,173.2 111.6,173.5 112,173.9 112.4,174.2 112.8,174.6 113.2,175.0 113.6,175.3 114,175.7 114.4,176.0 114.8,176.4 115.2,176.7 115.6,177.1 115.8,177.3 116,177.5 116.4,177.9 116.8,178.2 117.2,178.6 117.6,179.0 118,179.4 118.4,179.8 118.8,180.2 119.2,180.5 119.6,180.9 120,181.3 120.4,181.7 120.8,182.1 121.2,182.5 121.6,182.9 122,183.3 122.4,183.7 122.8,184.1 123.2,184.5 123.6,184.9 124,185.3 124.4,185.7 124.8,186.0 125.2,186.4 125.6,186.8 126,187.2 126.4,187.6 126.8,188.0 127,188.2 127.2,188.4 127.6,188.8 128,189.2 128.4,189.5 128.8,189.9 129.2,190.3 129.6,190.7 130,191.0 130.4,191.4 130.8,191.8 131.2,192.1 131.6,192.5 132,192.9 132.4,193.3 132.8,193.6 133.2,194.0 133.6,194.4 134,194.8 134.4,195.1 134.8,195.5 135.2,195.9 135.6,196.3 136,196.7 136.4,197.1 136.8,197.5 137.2,197.9 137.6,198.3 138,198.7 138.4,199.1 138.8,199.5 139.2,200.0 139.5,200.3 139.6,200.4 140,200.9 140.4,201.3 140.8,201.8 141.2,202.3 141.6,202.8 142,203.3 142.4,203.8 142.8,204.3 143.2,204.8 143.6,205.3 143.7,205.4 144,205.8 144.4,206.2 144.8,206.7 145.2,207.2 145.6,207.7 146,208.2 146.4,208.7 146.8,209.2 147.2,209.7 147.4,209.9 147.6,210.1 148,210.6 148.4,211.1 148.8,211.6 149.2,212.1 149.6,212.7 150,213.2 150.4,213.7 150.8,214.2 151.2,214.7 151.2,214.7 151.6,215.2 152,215.7 152.4,216.2 152.8,216.7 153.2,217.2 153.6,217.8 154,218.3 154.4,218.9 154.8,219.4 154.9,219.6 155.2,220.1 155.6,220.7 156,221.4 156.4,222.1 156.8,222.8 157.2,223.6 157.6,224.3 158,225.0 158,225.0 158.4,225.7 158.8,226.4 159.2,227.0 159.6,227.7 160,228.3 160.4,229.0 160.8,229.6 161.2,230.3 161.6,231.0 162,231.7 162.4,232.4 162.8,233.1 163.2,233.9 163.6,234.7 163.8,235.1 164,235.5 164.4,236.4 164.8,237.2 165.2,238.1 165.6,239.0 166,239.9 166.4,240.9 166.8,241.9 167.2,243.0 167.6,244.1 168,245.2 168.4,246.5 168.7,247.4 168.8,247.7 169.2,249.1 169.6,250.7 170,252.4 170.4,254.2 170.8,256.0 171.2,257.8 171.6,259.6 171.7,260.0 172,261.3 172.4,263.0 172.8,264.8 173.2,266.5 173.6,268.3 174,270.1 174.2,271.0 174.4,272.0 174.8,274.4 175.2,276.6 175.6,278.1 175.8,278.3 176,277.9 176.4,275.5 176.8,271.8 177.2,268.0 177.2,268.0 177.6,263.9 178,259.3 178.4,255.4 178.6,254.0 178.8,252.9 179.2,250.8 179.6,249.2 180,248.3 180.1,248.3 180.4,248.7 180.8,250.3 181.2,252.6 181.6,255.0 181.6,255.0 182,257.8 182.4,261.3 182.8,265.1 183.2,269.1 183.6,273.0 183.6,273.0 184,276.9 184.4,281.0 184.8,285.1 185.2,288.7 185.5,291.0 185.6,291.7 186,294.6 186.4,297.3 186.8,299.5 187.2,300.8 187.4,301.0 187.6,300.8 188,299.1 188.4,296.3 188.8,293.1 189.2,290.0 189.2,290.0 189.6,286.9 190,283.5 190.4,280.0 190.8,276.7 191.2,274.0 191.2,274.0 191.6,271.7 192,269.6 192.4,267.6 192.8,265.7 193.2,264.0 193.6,262.4 194,260.9 194.3,259.8 194.4,259.5 194.8,258.1 195.2,256.9 195.6,255.7 196,254.6 196.4,253.5 196.8,252.4 197.2,251.4 197.6,250.5 198,249.5 198.4,248.6 198.4,248.6 198.8,247.7 199.2,246.9 199.6,246.1 200,245.3 200.4,244.5 200.8,243.8 201.2,243.1 201.6,242.3 202,241.6 202.4,240.8 202.8,239.9 202.9,239.7 203.2,239.0 203.6,238.1 204,237.1 204.4,236.1 204.8,235.1 205.2,234.0 205.6,233.1 206,232.1 206.4,231.2 206.5,231.0 206.8,230.4 207.2,229.5 207.6,228.7 208,227.9 208.4,227.2 208.8,226.4 209.2,225.7 209.6,225.0 210,224.3 210.4,223.6 210.8,222.9 211.2,222.3 211.2,222.3 211.6,221.7 212,221.1 212.4,220.5 212.8,220.0 213.2,219.4 213.6,218.9 214,218.4 214.4,217.9 214.8,217.3 215.2,216.9 215.6,216.4 216,215.9 216.4,215.4 216.8,214.9 217.2,214.4 217.6,213.9 218,213.4 218.4,212.9 218.6,212.7 218.8,212.5 219.2,212.0 219.6,211.5 220,211.0 220.4,210.5 220.8,210.0 221.2,209.6 221.6,209.1 222,208.6 222.4,208.2 222.8,207.7 223.2,207.2 223.6,206.8 224,206.3 224.4,205.8 224.8,205.3 225.2,204.8 225.6,204.3 226,203.8 226.1,203.7 226.4,203.3 226.8,202.8 227.2,202.3 227.6,201.7 228,201.2 228.4,200.6 228.8,200.0 229.2,199.5 229.6,198.9 230,198.3 230.4,197.8 230.8,197.2 231.2,196.6 231.6,196.1 232,195.5 232.4,195.0 232.8,194.4 233.2,193.9 233.6,193.4 234,192.9 234.4,192.4 234.8,191.9 234.8,191.9 235.2,191.4 235.6,191.0 236,190.5 236.4,190.1 236.8,189.6 237.2,189.2 237.6,188.8 238,188.4 238.4,188.0 238.8,187.6 239.2,187.1 239.6,186.7 240,186.3 240.4,185.9 240.8,185.5 241.2,185.1 241.6,184.7 242,184.3 242.4,183.9 242.8,183.5 243.2,183.1 243.6,182.6 244,182.2 244.2,182.0 244.4,181.8 244.8,181.4 245.2,180.9 245.6,180.5 246,180.1 246.4,179.7 246.8,179.3 247.2,178.9 247.6,178.4 248,178.0 248.4,177.6 248.8,177.2 249.2,176.8 249.6,176.3 250,175.9 250.4,175.5 250.8,175.0 251.2,174.6 251.6,174.1 252,173.6 252.4,173.1 252.8,172.6 253.2,172.1 253.6,171.6 254,171.0 254.4,170.4 254.7,170.0 254.8,169.8 255.2,169.2 255.6,168.4 256,167.6 256.4,166.8 256.8,166.0 257.2,165.3 257.6,164.6 257.7,164.4 258,163.9 258.4,163.3 258.8,162.7 259.2,162.2 259.6,161.6 260,161.1 260.4,160.5 260.8,160.0 261.2,159.5 261.6,159.0 262,158.5 262.4,158.0 262.8,157.5 263.2,157.0 263.6,156.5 264,156.0 264.4,155.5 264.8,154.9 265.2,154.4 265.2,154.4 265.6,153.9 266,153.3 266.4,152.8 266.8,152.2 267.2,151.7 267.6,151.1 268,150.6 268.4,150.0 268.8,149.5 269.2,148.9 269.6,148.3 270,147.8 270.4,147.2 270.8,146.6 271.2,146.0 271.6,145.4 272,144.8 272.4,144.2 272.6,143.9 272.8,143.6 273.2,143.0 273.6,142.3 274,141.7 274.4,141.1 274.8,140.4 275.2,139.8 275.6,139.1 276,138.4 276.4,137.7 276.8,136.9 277.2,136.2 277.6,135.4 277.8,135.0 278,134.6 278.4,133.7 278.8,132.7 279.2,131.8 279.6,130.8 279.8,130.3 280,129.8 280.4,128.9 280.8,128.0 281.2,127.1 281.6,126.2 282,125.3 282.4,124.3 282.8,123.3 283.2,122.3 283.2,122.3 283.6,121.2 284,120.1 284.4,118.9 284.8,117.7 285.2,116.4 285.6,115.1 286,113.7 286.1,113.4 286.4,112.3 286.8,110.9 287.2,109.3 287.6,107.7 288,106.0 288,106.0 288.4,104.1 288.8,102.1 289.1,100.5 289.2,100.0 289.6,97.8 290,95.5 290.4,93.2 290.8,90.9 291.2,88.4 291.3,87.8 291.6,85.9 292,83.2 292.4,80.5 292.8,77.8 293.2,75.1 293.2,75.1 293.6,72.5 294,69.9 294.4,67.5 294.4,67.5 294.8,65.0 295.2,63.3 295.3,63.2 295.6,63.8 296,65.9 296.3,67.5 296.4,68.0 296.8,70.0 297.2,72.3 297.3,72.9 297.6,74.8 298,77.6 298.4,80.5 298.8,83.5 298.8,83.5 299.2,86.7 299.6,90.0 300,93.3 300.3,95.5 300.4,96.2 300.8,98.9 301.2,101.5 301.6,103.9 301.8,105.0 302,106.0 302.4,107.9 302.8,109.7 303.2,111.3 303.6,113.1 303.7,113.5 304,114.8 304.4,116.6 304.8,118.4 305.2,120.2 305.6,122.0 306,123.8 306.4,125.6 306.7,126.9 306.8,127.4 307.2,129.2 307.6,131.0 308,132.9 308.4,134.7 308.8,136.5 309.2,138.3 309.6,140.1 310,141.8 310,141.8 310.4,143.4 310.8,145.0 311.2,146.6 311.6,148.2 312,149.7 312.4,151.2 312.4,151.2 312.8,152.7 313.2,154.1 313.6,155.5 314,156.9 314.4,158.3 314.8,159.8 315.2,161.4 315.4,162.3 315.6,163.2 316,165.3 316.4,167.4 316.8,169.6 317.2,171.6 317.3,172.0 317.6,173.3 318,174.8 318.4,176.3 318.8,177.7 319.2,179.1 319.5,180.0 319.6,180.3 320,181.7 320.4,183.1 320.8,184.2 321.2,184.8 321.3,184.8 321.6,184.5 322,183.3 322.4,181.5 322.8,179.4 323.2,177.4 323.5,176.0 323.6,175.6 324,173.6 324.4,171.4 324.8,169.2 325.2,167.2 325.6,165.7 326,164.8 326.2,164.7 326.4,164.9 326.8,166.0 327.2,167.8 327.6,170.0 328,172.0 328,172.0 328.4,174.3 328.8,177.1 329.2,179.4 329.6,180.4 329.6,180.4 330,179.0 330.4,175.4 330.8,170.6 331.2,165.5 331.5,162.0 331.6,160.9 332,156.6 332.4,152.1 332.8,147.2 333,144.6 333.2,141.5 333.6,133.5 334,125.2 334.4,119.0 334.7,117.0 334.8,116.9 335.2,116.5 335.5,116.4 335.6,116.5 336,119.2 336.4,123.1 336.5,124.0 336.8,126.7 337.2,130.6 337.6,134.2 337.6,134.2 338,137.3 338.4,140.3 338.8,143.1 339.2,145.8 339.6,148.5 340,151.0 340.4,153.6 340.8,156.1 341.2,158.7 341.4,160.0 341.6,161.3 342,163.9 342.4,166.5 342.8,169.0 343.2,171.5 343.6,174.1 344,176.6 344.4,179.1 344.8,181.7 345,183.0 345.2,184.3 345.6,186.8 346,189.2 346.4,191.7 346.8,194.1 347.2,196.6 347.6,199.1 348,201.8 348.4,204.6 348.8,207.6 349.1,210.0 349.2,210.8 349.6,214.4 350,218.2 350.4,222.3 350.8,226.6 351.2,231.1 351.6,235.5 352,240.0 352,240.0 352.4,245.2 352.8,251.3 353.2,257.6 353.6,263.3 354,267.6 354.4,269.7 354.5,269.8 354.8,267.7 355.2,260.1 355.6,249.8 356,240.0 356,240.0 356.4,231.7 356.8,223.1 357.2,212.9 357.3,210.0 357.6,195.7 358,181.3 358,181.3 358.4,181.4 358.8,181.5 359.2,181.8 359.6,182.0 360,182.3 360.4,182.4 360.6,182.4 360.8,182.0 361.2,178.8 361.6,173.4 362,166.8 362.4,160.0 362.4,160.0 362.8,151.0 363.2,140.6 363.5,135.0 363.6,133.7 364,129.2 364.4,125.5 364.8,122.8 365,122.0 365.2,121.4 365.6,120.5 366,119.9 366.4,119.4 366.8,118.8 367.2,117.8 367.4,117.2 367.6,116.1 368,112.2 368.4,107.1 368.8,102.1 369,100.0 369.2,98.0 369.6,93.7 370,89.9 370.4,87.8 370.5,87.7 370.8,88.9 371.2,93.2 371.6,99.1 372,105.0 372,105.0 372.4,110.7 372.8,117.0 373.2,123.5 373.6,130.0 373.6,130.0 374,136.8 374.4,144.1 374.8,151.5 375.2,158.5 375.6,164.5 376,169.1 376.1,170.0 376.4,172.1 376.8,174.2 377.2,176.3 377.3,177.0 377.6,179.5 378,183.7 378.4,188.5 378.8,193.6 379.2,198.3 379.6,202.3 380,205.0 380.4,206.0 380.4,206.0 380.8,204.8 381.2,201.7 381.6,197.5 382,193.0 382.4,188.9 382.5,188.0 382.8,185.6 383.2,182.6 383.6,179.7 384,176.7 384.4,173.5 384.8,170.0 384.8,170.0 385.2,165.5 385.6,160.6 386,157.0 386,157.0 386.4,154.7 386.8,152.7 387.2,151.3 387.5,151.0 387.6,151.1 388,152.1 388.4,154.2 388.8,156.7 389,158.0 389.2,159.3 389.6,162.3 390,165.9 390.4,170.0 390.4,170.0 390.8,176.2 391.2,184.3 391.6,191.2 392,194.2 392,194.2 392.4,192.6 392.8,189.0 393.2,184.7 393.5,182.0 393.6,181.3 394,178.5 394.4,175.9 394.8,173.3 395.2,170.7 395.3,170.0 395.6,167.9 396,164.9 396.4,161.8 396.8,158.8 397.2,155.8 397.6,152.8 398,150.0 398,150.0 398.4,147.4 398.8,144.8 399.2,142.4 399.6,140.0 400,137.6 400.4,135.2 400.8,132.7 401.2,130.0 401.2,130.0 401.6,126.7 402,122.9 402.4,119.0 402.8,115.8 403.2,113.9 403.4,113.6 403.6,114.6 404,121.0 404.4,130.6 404.8,140.0 404.8,140.0 405.2,150.2 405.6,162.1 406,172.5 406.4,178.1 406.5,178.4 406.8,176.7 407.2,171.4 407.6,166.6 407.7,166.0 408,164.8 408.4,163.5 408.8,162.5 409.2,161.7 409.6,160.9 410,160.0 410,160.0 410.4,159.1 410.8,158.3 411.2,157.4 411.6,156.6 412,155.8 412.4,155.0 412.8,154.1 412.9,153.9 413.2,153.2 413.6,152.2 414,151.2 414.4,150.1 414.5,149.8 414.8,148.8 415.2,147.4 415.6,146.0 415.9,145.0 416,144.7 416.4,143.5 416.8,142.4 417.2,141.4 417.6,140.3 417.9,139.4 418,139.1 418.4,137.6 418.8,135.9 419.2,134.4 419.6,133.5 419.8,133.4 420,133.5 420.4,134.3 420.8,135.4 421.2,136.5 421.6,137.1 421.7,137.1 422,136.6 422.4,134.8 422.8,132.0 423.2,128.7 423.6,125.3 424,122.2 424.2,121.0 424.4,119.9 424.8,117.8 425.2,115.8 425.6,113.9 426,112.0 426,112.0 426.4,109.9 426.8,107.7 427.2,105.6 427.6,104.0 428,103.1 428.1,103.1 428.4,104.2 428.8,107.9 429.2,112.2 429.6,114.8 429.7,114.9 430,114.1 430.4,111.2 430.8,107.2 431.2,103.4 431.6,101.0 431.8,100.6 432,102.0 432.4,111.3 432.8,124.1 433,130.0 433.2,136.4 433.6,152.0 434,165.3 434.3,169.1 434.4,168.8 434.8,163.6 435.2,155.4 435.5,150.0 435.6,148.6 436,142.5 436.4,136.5 436.8,131.1 437.2,126.9 437.5,125.0 437.6,124.6 438,123.0 438.4,121.8 438.8,121.1 439,121.0 439.2,121.5 439.6,124.5 440,129.2 440.4,134.1 440.8,137.7 441.1,138.7 441.2,138.6 441.6,136.7 442,132.9 442.4,128.3 442.8,123.9 443.2,120.5 443.4,119.5 443.6,118.9 444,117.7 444.4,116.8 444.8,116.0 445.2,115.3 445.6,114.7 446,114.0 446,114.0 446.4,113.3 446.8,112.5 447.2,111.7 447.6,110.9 448,110.2 448.4,109.7 448.8,109.3 449.2,109.1 449.3,109.1 449.6,109.3 450,110.0 450.4,111.1 450.8,112.5 451.2,113.8 451.6,114.9 452,115.6 452.3,115.8 452.4,115.8 452.8,115.5 453.2,114.9 453.6,114.0 454,113.0 454.4,111.9 454.8,110.7 455.2,109.5 455.6,108.5 456,107.6 456,107.6 456.4,106.8 456.8,106.0 457.2,105.1 457.6,104.2 458,103.3 458.4,102.5 458.8,101.8 459.2,101.2 459.6,100.7 460,100.4 460.4,100.2 460.5,100.2 460.8,100.7 461.2,102.4 461.6,105.2 462,108.4 462.4,111.5 462.8,114.3 463.2,116.0 463.5,116.5 463.6,116.5 464,115.5 464.4,113.5 464.8,110.7 465.2,107.5 465.6,104.2 466,101.1 466.4,98.4 466.8,96.5 467.2,95.7 467.2,95.7 467.6,95.5 468,95.4 468.4,95.3 468.8,95.2 469.2,95.1 469.6,95.0 470,95.0 470.2,95.0 470.4,95.0 470.8,95.1 471.2,95.4 471.6,95.7 472,96.0 472.4,96.4 472.8,96.8 473.2,97.2 473.2,97.2 473.6,97.7 474,98.2 474.4,98.6 474.6,98.7 474.8,98.6 475.2,97.8 475.6,96.4 476,94.6 476.4,92.6 476.8,90.8 477.2,89.3 477.6,88.3 477.6,88.3 478,87.7 478.4,87.2 478.8,86.8 479.2,86.5 479.6,86.1 480,85.8 480.4,85.5 480.8,85.1 481.2,84.7 481.3,84.6 481.6,84.2 482,83.6 482.4,83.0 482.8,82.3 483.2,81.6 483.6,80.9 484,80.2 484.4,79.6 484.8,79.2 485.2,78.8 485.6,78.6 485.8,78.6 486,78.8 486.4,80.4 486.8,82.8 487.2,85.4 487.6,87.5 488,88.3 488,88.3 488.4,87.8 488.8,86.6 489.2,85.0 489.6,83.4 490,82.3 490,82.3 490.4,81.5 490.8,80.8 491.2,80.1 491.6,79.5 492,78.9 492.4,78.3 492.8,77.8 493.2,77.3 493.6,76.8 494,76.3 494.4,75.9 494.8,75.4 495,75.2 495.2,75.0 495.6,74.5 496,74.1 496.4,73.7 496.8,73.4 496.9,73.3 497.2,73.1 497.6,72.8 498,72.6 498.4,72.4 498.8,72.2 499.2,72.0 499.6,71.8 500,71.5 500.4,71.2 500.6,71.1 500.8,70.9 501.2,70.6 501.6,70.2 502,69.7 502.4,69.3 502.8,68.8 502.8,68.8 503.2,68.3 503.6,67.7 504,67.0 504.4,66.4 504.8,65.8 505.2,65.4 505.6,65.1 505.8,65.1 506,65.1 506.4,65.2 506.8,65.4 507.2,65.6 507.6,65.8 508,65.9 508.1,65.9 508.4,65.8 508.8,65.4 509.2,64.8 509.6,63.9 510,63.0 510.4,62.0 510.8,60.9 511.2,60.0 511.6,59.1 511.8,58.8 512,58.5 512.4,57.9 512.8,57.3 513.2,56.8 513.6,56.3 514,55.8 514.4,55.2 514.8,54.7 515.2,54.2 515.6,53.6 516,53.0 516,53.0 516.4,52.4 516.8,51.8 517.2,51.3 517.6,50.7 518,50.0 518.4,49.3 518.8,48.4 519.2,47.3 519.3,47.0 519.6,45.3 520,41.9 520.4,39.1 520.6,38.6 520.8,38.9 521.2,41.2 521.6,44.8 522,48.5 522.2,50.0 522.4,51.5 522.8,54.9 523.2,58.4 523.6,61.4 524,63.5 524.3,64.0 524.4,64.0 524.8,63.2 525.2,62.3 525.5,62.0 525.6,62.2 526,65.7 526.4,72.4 526.8,80.1 527.2,86.8 527.6,90.3 527.7,90.5 528,88.7 528.4,82.3 528.8,73.7 529.2,65.8 529.5,62.0 529.6,61.2 530,58.6 530.4,56.6 530.8,54.6 531,53.4 531.2,52.1 531.6,49.5 532,46.8 532.4,43.9 532.8,40.8 532.9,40.0 533.2,37.0 533.6,32.0 534,27.0 534.4,23.1 534.8,21.5 534.8,21.5 535.2,23.6 535.6,28.9 536,36.1 536.1,38.0 536.4,47.0 536.8,63.3 537,70.0 537.2,75.5 537.6,85.1 537.8,88.0 538,89.9 538.4,92.6 538.6,93.0" fill="none" stroke="#141496" stroke-width="1.8" stroke-linejoin="round" stroke-linecap="round"/>
<line x1="72.4" y1="15.1" x2="72.4" y2="347.5" stroke="#000" stroke-width="1.6"/>
<line x1="66.8" y1="344.5" x2="537.4" y2="344.5" stroke="#000" stroke-width="1.6"/>
<line x1="66.6" y1="15.9" x2="72.4" y2="15.9" stroke="#000" stroke-width="1.5"/>
<text x="39.2" y="19.3" class="tk" textLength="25.9" lengthAdjust="spacingAndGlyphs"><tspan font-weight="bold" dy="2.4">−</tspan><tspan dy="-2.4">20</tspan></text>
<line x1="66.6" y1="57.0" x2="72.4" y2="57.0" stroke="#000" stroke-width="1.5"/>
<text x="39.2" y="60.4" class="tk" textLength="25.9" lengthAdjust="spacingAndGlyphs"><tspan font-weight="bold" dy="2.4">−</tspan><tspan dy="-2.4">30</tspan></text>
<line x1="66.6" y1="98.1" x2="72.4" y2="98.1" stroke="#000" stroke-width="1.5"/>
<text x="39.2" y="101.5" class="tk" textLength="25.9" lengthAdjust="spacingAndGlyphs"><tspan font-weight="bold" dy="2.4">−</tspan><tspan dy="-2.4">40</tspan></text>
<line x1="66.6" y1="139.1" x2="72.4" y2="139.1" stroke="#000" stroke-width="1.5"/>
<text x="39.2" y="142.5" class="tk" textLength="25.9" lengthAdjust="spacingAndGlyphs"><tspan font-weight="bold" dy="2.4">−</tspan><tspan dy="-2.4">50</tspan></text>
<line x1="66.6" y1="180.2" x2="72.4" y2="180.2" stroke="#000" stroke-width="1.5"/>
<text x="39.2" y="183.6" class="tk" textLength="25.9" lengthAdjust="spacingAndGlyphs"><tspan font-weight="bold" dy="2.4">−</tspan><tspan dy="-2.4">60</tspan></text>
<line x1="66.6" y1="221.3" x2="72.4" y2="221.3" stroke="#000" stroke-width="1.5"/>
<text x="39.2" y="224.7" class="tk" textLength="25.9" lengthAdjust="spacingAndGlyphs"><tspan font-weight="bold" dy="2.4">−</tspan><tspan dy="-2.4">70</tspan></text>
<line x1="66.6" y1="262.4" x2="72.4" y2="262.4" stroke="#000" stroke-width="1.5"/>
<text x="39.2" y="265.8" class="tk" textLength="25.9" lengthAdjust="spacingAndGlyphs"><tspan font-weight="bold" dy="2.4">−</tspan><tspan dy="-2.4">80</tspan></text>
<line x1="66.6" y1="303.4" x2="72.4" y2="303.4" stroke="#000" stroke-width="1.5"/>
<text x="39.2" y="306.8" class="tk" textLength="25.9" lengthAdjust="spacingAndGlyphs"><tspan font-weight="bold" dy="2.4">−</tspan><tspan dy="-2.4">90</tspan></text>
<line x1="66.6" y1="344.5" x2="72.4" y2="344.5" stroke="#000" stroke-width="1.5"/>
<text x="31.2" y="347.9" class="tk" textLength="33.9" lengthAdjust="spacingAndGlyphs"><tspan font-weight="bold" dy="2.4">−</tspan><tspan dy="-2.4">100</tspan></text>
<line x1="137.6" y1="344.5" x2="137.6" y2="350.4" stroke="#000" stroke-width="1.5"/>
<text x="126.1" y="366.5" class="tk" textLength="13.9" lengthAdjust="spacingAndGlyphs">10</text>
<text x="140.9" y="357.9" class="sup">2</text>
<line x1="231.1" y1="344.5" x2="231.1" y2="350.4" stroke="#000" stroke-width="1.5"/>
<text x="219.6" y="366.5" class="tk" textLength="13.9" lengthAdjust="spacingAndGlyphs">10</text>
<text x="234.4" y="357.9" class="sup">3</text>
<line x1="324.5" y1="344.5" x2="324.5" y2="350.4" stroke="#000" stroke-width="1.5"/>
<text x="313.0" y="366.5" class="tk" textLength="13.9" lengthAdjust="spacingAndGlyphs">10</text>
<text x="327.8" y="357.9" class="sup">4</text>
<line x1="418.0" y1="344.5" x2="418.0" y2="350.4" stroke="#000" stroke-width="1.5"/>
<text x="406.5" y="366.5" class="tk" textLength="13.9" lengthAdjust="spacingAndGlyphs">10</text>
<text x="421.3" y="357.9" class="sup">5</text>
<line x1="511.4" y1="344.5" x2="511.4" y2="350.4" stroke="#000" stroke-width="1.5"/>
<text x="499.9" y="366.5" class="tk" textLength="13.9" lengthAdjust="spacingAndGlyphs">10</text>
<text x="514.7" y="357.9" class="sup">6</text>
<text x="236.6" y="388.8" class="lab" textLength="140.5" lengthAdjust="spacingAndGlyphs">Frequency [Hz]</text>
<text transform="translate(25.6,220.1) rotate(-90)" x="0" y="0" class="lab" textLength="85.9" lengthAdjust="spacingAndGlyphs">FRA [dB]</text>
<text x="83.4" y="299.5" class="lab2" textLength="79.8" lengthAdjust="spacingAndGlyphs">LF range</text>
<text x="272.2" y="300.0" class="lab2" textLength="86.2" lengthAdjust="spacingAndGlyphs">MF range</text>
<text x="437.3" y="299.5" class="lab2" textLength="84.1" lengthAdjust="spacingAndGlyphs">HF range</text>
<rect x="81.4" y="17.9" width="105.2" height="73.3" fill="#fff" stroke="#707070" stroke-width="1.05"/>
<line x1="102.8" y1="33.4" x2="137.8" y2="33.4" stroke="#000" stroke-width="1.4"/>
<text x="142.3" y="37.2" class="leg" textLength="33.4" lengthAdjust="spacingAndGlyphs">A<tspan font-weight="bold">−</tspan>N</text>
<line x1="102.8" y1="53.1" x2="137.8" y2="53.1" stroke="#d42020" stroke-width="1.4"/>
<text x="144.5" y="56.9" class="leg" textLength="31.2" lengthAdjust="spacingAndGlyphs">B<tspan font-weight="bold">−</tspan>N</text>
<line x1="102.8" y1="72.8" x2="137.8" y2="72.8" stroke="#141496" stroke-width="1.4"/>
<text x="142.3" y="76.6" class="leg" textLength="33.4" lengthAdjust="spacingAndGlyphs">C<tspan font-weight="bold">−</tspan>N</text>
</svg>
</body></html>
